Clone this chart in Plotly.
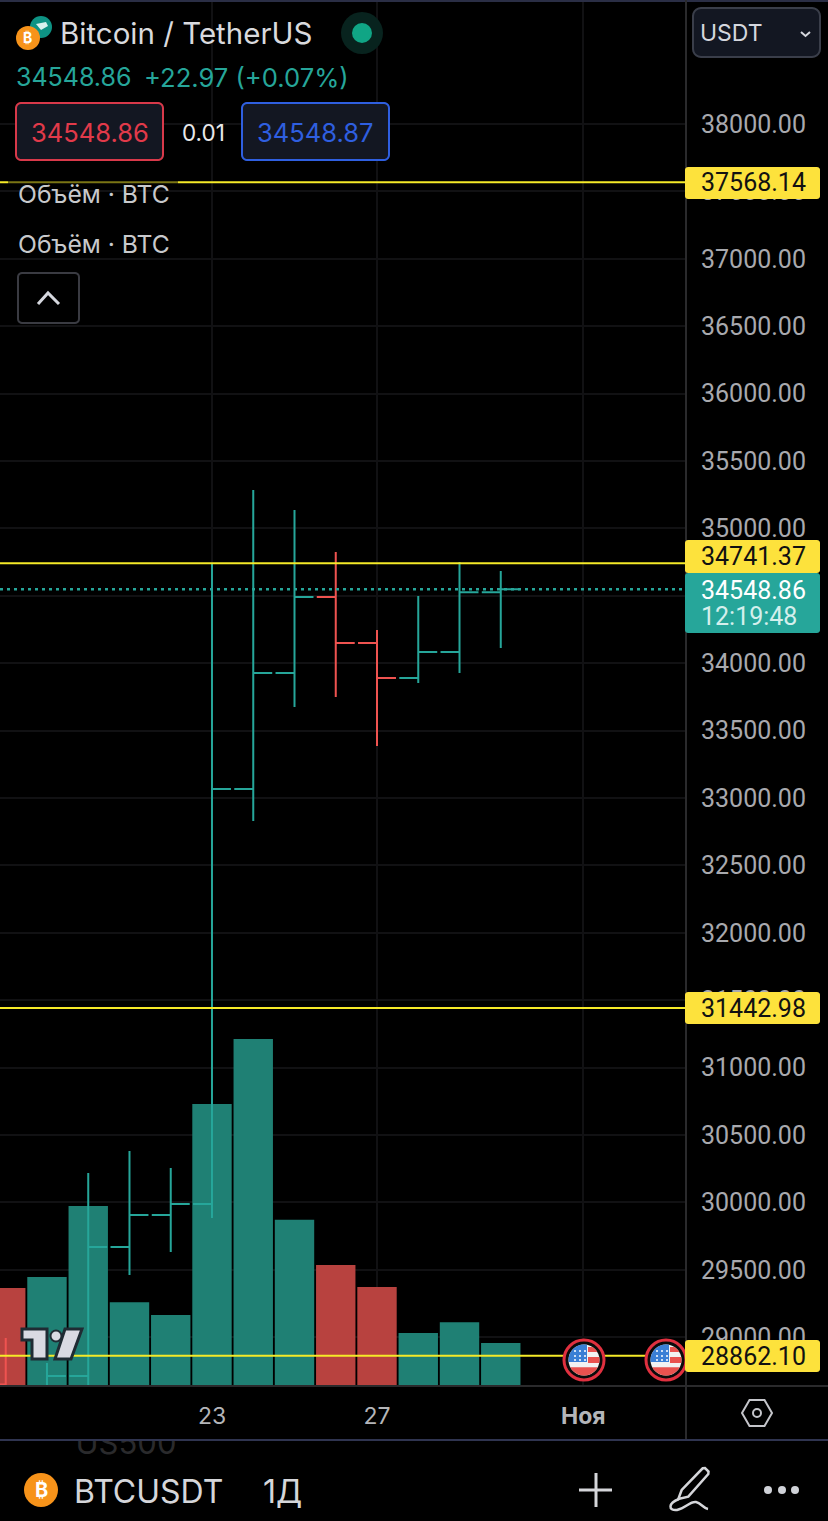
import numpy as np
import plotly.graph_objects as go

# -- daily bars BTCUSDT
dates = ['2023-10-18', '2023-10-19', '2023-10-20', '2023-10-21', '2023-10-22', '2023-10-23', '2023-10-24',
         '2023-10-25', '2023-10-26', '2023-10-27', '2023-10-28', '2023-10-29', '2023-10-30']
opens = [28650, 28328, 28712, 29669, 29907, 29988, 33067, 33927, 34491, 34150, 33890, 34083, 34525.89]
highs = [28994, 28809, 30218, 30381, 30255, 34743, 35285, 35136, 34825, 34246, 34499, 34750, 34684]
lows = [28142, 28260, 28560, 29461, 29632, 29884, 32829, 33675, 33749, 33386, 33853, 33927, 34113]
closes = [28328, 28712, 29669, 29907, 29988, 33067, 33927, 34491, 34150, 33890, 34083, 34525.89, 34548.86]
volumes = [30400, 33800, 55800, 26000, 22000, 87400, 107600, 51500, 37500, 30700, 16400, 19800, 13300]
volume_colors = ['#b8423f', '#1f8074', '#1f8074', '#1f8074', '#1f8074', '#1f8074', '#1f8074',
                 '#1f8074', '#b8423f', '#b8423f', '#1f8074', '#1f8074', '#1f8074']

price_ticks = [29000, 29500, 30000, 30500, 31000, 31500, 32000, 32500, 33000, 33500, 34000, 34500,
               35000, 35500, 36000, 36500, 37000, 37500, 38000]
time_ticks = ['2023-10-23', '2023-10-27', '2023-11-01']
time_labels = ['23', '27', '<b>Ноя</b>']
levels = [37568.14, 34741.37, 31442.98, 28862.10]
last_price = 34548.86

W, H = 828, 1521
FONT = 'Inter'
NUM_FONT = 'Roboto'  # tabular digits for the price column
TEAL = '#26a69a'
YELLOW = '#fde23c'
GRID = '#111113'


def X(x):
    return x / W


def Y(y):
    return 1 - y / H


shapes = []
notes = []


def text(x, y, s, size, color, anchor='left', family=FONT):
    notes.append(dict(xref='paper', yref='paper', x=X(x), y=Y(y), text=s, showarrow=False, xanchor=anchor,
                      yanchor='middle', font=dict(family=family, size=size, color=color), borderpad=0, borderwidth=0))


def path(points, fill=None, line=None, width=0, closed=True):
    d = 'M' + ' L'.join(f'{X(a):.5f},{Y(b):.5f}' for a, b in points) + (' Z' if closed else '')
    shapes.append(dict(type='path', xref='paper', yref='paper', path=d, fillcolor=fill or 'rgba(0,0,0,0)',
                       line=dict(color=line or 'rgba(0,0,0,0)', width=width), layer='above'))


def circle(cx, cy, r, fill, line=None, width=0):
    shapes.append(dict(type='circle', xref='paper', yref='paper', x0=X(cx - r), x1=X(cx + r), y0=Y(cy + r),
                       y1=Y(cy - r), fillcolor=fill, line=dict(color=line or 'rgba(0,0,0,0)', width=width),
                       layer='above'))


def box(x0, y0, x1, y1, r, fill, line=None, width=0):
    pts = []
    for cx, cy, a0 in [(x1 - r, y0 + r, -90), (x1 - r, y1 - r, 0), (x0 + r, y1 - r, 90), (x0 + r, y0 + r, 180)]:
        for a in np.radians(np.linspace(a0, a0 + 90, 6)):
            pts.append((cx + r * np.cos(a), cy + r * np.sin(a)))
    path(pts, fill, line, width)


def us_flag(cx, cy):
    r = 15.5
    circle(cx, cy, 20, '#0b0b0b', '#e0303f', 3)
    circle(cx, cy, r, '#f2f2f2')
    # right hand stripes, cut by the circle
    for y0, y1 in [(-13, -8), (-3, 3)]:
        arc = [(cx + np.sqrt(r ** 2 - b ** 2), cy + b) for b in np.linspace(y0, y1, 8)]
        path([(cx + 4, cy + y0)] + arc + [(cx + 4, cy + y1)], '#e9524f')
    low = [(cx + r * np.cos(a), cy + r * np.sin(a)) for a in np.radians(np.linspace(28, 152, 16))]
    path(low, '#e9524f')
    canton = [(cx + 3, cy + 2), (cx - 15.4, cy + 2)] + [(cx + r * np.cos(a), cy + r * np.sin(a))
                                                        for a in np.radians(np.linspace(185, 281, 14))]
    canton.append((cx + 3, cy - 15.2))
    path(canton, '#3a7fd5')
    for dx in (-9, -4, 1):
        for dy in (-9, -4, 0):
            circle(cx + dx, cy + dy, 1, '#ffffff')


# -- chart frame
shapes.append(dict(type='line', xref='paper', yref='paper', x0=0, x1=1, y0=Y(1), y1=Y(1),
                   line=dict(color='#2a2e45', width=2), layer='above'))
shapes.append(dict(type='line', xref='paper', yref='paper', x0=0, x1=1, y0=Y(1386), y1=Y(1386),
                   line=dict(color='#2a2a2c', width=2), layer='above'))
shapes.append(dict(type='line', xref='paper', yref='paper', x0=X(686), x1=X(686), y0=Y(0), y1=Y(1440),
                   line=dict(color='#2a2a2c', width=2), layer='above'))
shapes.append(dict(type='line', xref='paper', yref='paper', x0=0, x1=1, y0=Y(1440), y1=Y(1440),
                   line=dict(color='#2f3450', width=2), layer='above'))

# -- price lines
shapes.append(dict(type='line', xref='paper', yref='y2', x0=0, x1=X(682), y0=last_price, y1=last_price,
                   line=dict(color=TEAL, width=2.5, dash='3px,4px'), layer='above'))
for lvl in levels:
    shapes.append(dict(type='line', xref='paper', yref='y2', x0=0, x1=X(686), y0=lvl, y1=lvl,
                       line=dict(color='#f5ea28', width=2), layer='above'))

# -- legend veil over the top line
path([(8, 181), (178, 181), (178, 186), (8, 186)], 'rgba(0,0,0,0.5)')

us_flag(584, 1360)
us_flag(666, 1360)

# -- price labels
for lvl, (y0, y1) in zip(levels, [(167, 199), (540, 573), (992, 1024), (1340, 1372)]):
    box(685, y0, 820, y1, 3, YELLOW)
    text(701, (y0 + y1) / 2, f'{lvl:.2f}', 25, '#111111', family=NUM_FONT)
box(685, 573, 820, 633, 3, TEAL)
text(701, 590, f'{last_price:.2f}', 25, '#ffffff', family=NUM_FONT)
text(701, 617, '12:19:48', 25, '#d4efec', family=NUM_FONT)

# -- header
box(693, 8, 820, 57, 8, '#131722', '#3a3e4a', 2)
text(700, 33, 'USDT', 23, '#d5d7de')
path([(801, 32), (805.5, 36), (810, 32)], None, '#d5d7de', 2, closed=False)

circle(41, 27, 11, '#0e9384')
path([(36, 24), (46, 22), (48, 26), (41, 30)], '#d9f2ee')
circle(28, 38, 12, '#f7931a')
text(28, 38, '<b>₿</b>', 14, '#ffffff', 'center')
text(60, 33, 'Bitcoin / TetherUS', 29.5, '#d9dade')
circle(362, 33, 21, '#08231e')
circle(362, 33, 10, '#10a585')

text(16, 77, '34548.86', 25, TEAL)
text(144, 77, '+22.97 (+0.07%)', 25.6, TEAL)

box(16, 103, 163, 160, 5, '#131722', '#d8394a', 2)
text(89.5, 132, '34548.86', 25.5, '#e23a4a', 'center')
text(203, 132, '0.01', 22.5, '#e8e8ea', 'center')
box(242, 103, 389, 160, 5, '#131722', '#2f5fe0', 2)
text(315, 132, '34548.87', 25.5, '#2f5fe0', 'center')

text(18, 194, 'Объём · BTC', 24.7, '#c8c9cc')
text(18, 244, 'Объём · BTC', 24.7, '#c8c9cc')
box(18, 273, 79, 323, 4, '#000000', '#3a3b42', 2)
path([(38, 304), (48, 293), (59, 304)], None, '#d5d7de', 3, closed=False)

# -- tradingview mark
path([(22, 1329), (47, 1329), (47, 1359), (32, 1359), (32, 1340), (22, 1340)], '#d9dae2', '#1f2b33', 3)
path([(65, 1329), (82, 1329), (71, 1359), (55, 1359)], '#d9dae2', '#1f2b33', 3)
circle(56, 1336, 5.5, '#d9dae2', '#1f2b33', 2)

# -- settings icon on the time axis
hexagon = [(757 + 15 * np.cos(a), 1413 + 15 * np.sin(a)) for a in np.radians(np.arange(0, 360, 60))]
path(hexagon, None, '#c4c5ca', 2)
circle(757, 1413, 4, 'rgba(0,0,0,0)', '#c4c5ca', 2)

# -- bottom bar
circle(41, 1490, 17, '#f7931a')
text(41, 1490, '<b>₿</b>', 20, '#ffffff', 'center')
text(74, 1491, 'BTCUSDT', 32, '#d5d6da')
text(263, 1491, '1Д', 32, '#d5d6da')
shapes.append(dict(type='line', xref='paper', yref='paper', x0=X(579), x1=X(612), y0=Y(1490), y1=Y(1490),
                   line=dict(color='#d5d6da', width=3), layer='above'))
shapes.append(dict(type='line', xref='paper', yref='paper', x0=X(596), x1=X(596), y0=Y(1473), y1=Y(1507),
                   line=dict(color='#d5d6da', width=3), layer='above'))
path([(702.7, 1468.3), (705, 1468), (708.5, 1471.5), (708.3, 1474), (688.3, 1496.7), (678.3, 1499), (681.7, 1490)],
     None, '#d5d6da', 2.5)
shapes.append(dict(type='path', xref='paper', yref='paper', layer='above', line=dict(color='#d5d6da', width=2.5),
                   path=f'M{X(679)},{Y(1499)} C{X(668)},{Y(1503)} {X(668)},{Y(1511)} {X(677)},{Y(1510)} '
                        f'C{X(686)},{Y(1508)} {X(690)},{Y(1501)} {X(696)},{Y(1502)} '
                        f'C{X(701)},{Y(1503)} {X(703)},{Y(1508)} {X(708)},{Y(1509)}'))
for dot_x in (768, 782, 795):
    circle(dot_x, 1490, 4, '#d0d2d8')

fig = go.Figure()
fig.add_trace(go.Bar(x=dates, y=volumes, marker=dict(color=volume_colors, line_width=0), width=0.955 * 86400000,
                     yaxis='y', xaxis='x'))
fig.add_trace(go.Ohlc(x=dates, open=opens, high=highs, low=lows, close=closes, tickwidth=0.46, yaxis='y2', xaxis='x',
                      increasing=dict(line=dict(color=TEAL, width=2)),
                      decreasing=dict(line=dict(color='#ef5350', width=2))))
# -- scrolled watchlist row, cut by the toolbar edge: text clipped on its own small axes
fig.add_trace(go.Scatter(x=[126], y=[1446], mode='text', text=['US500'], cliponaxis=True, xaxis='x2', yaxis='y3',
                         textfont=dict(family=FONT, size=31, color='#2a2a2c'), textposition='middle center'))

fig.update_layout(
    width=W, height=H, margin=dict(l=0, r=0, t=0, b=0), paper_bgcolor='#000000', plot_bgcolor='#000000',
    showlegend=False, hovermode=False, shapes=shapes, annotations=notes,
    xaxis=dict(domain=[0, X(686)], range=['2023-10-17 20:40', '2023-11-03 11:46'], type='date',
               rangeslider=dict(visible=False), tickmode='array', tickvals=time_ticks, ticktext=time_labels,
               tickfont=dict(family=FONT, size=23, color='#b4b5b9'), ticks='', ticklabelstandoff=14,
               showgrid=True, gridcolor=GRID, gridwidth=2, zeroline=False, showline=False),
    yaxis=dict(domain=[Y(1386), 1], range=[0, 429660], visible=False, showgrid=False, fixedrange=True),
    yaxis2=dict(domain=[Y(1386), 1], range=[28638, 38920], overlaying='y', side='right', anchor='x',
                tickmode='array', tickvals=price_ticks, ticktext=[f'{v:.2f}' for v in price_ticks],
                tickfont=dict(family=NUM_FONT, size=25, color='#a8a9ae'), ticks='', ticklabelstandoff=14,
                showgrid=True, gridcolor=GRID, gridwidth=2, zeroline=False, showline=False),
    xaxis2=dict(domain=[0, 1], range=[0, W], visible=False, anchor='y3'),
    yaxis3=dict(domain=[Y(1456), Y(1441)], range=[1456, 1441], visible=False, anchor='x2'),
)

fig.write_html("out.html", config={"displayModeBar": False},
               post_script="document.body.style.margin='0';document.body.style.background='#000';")
